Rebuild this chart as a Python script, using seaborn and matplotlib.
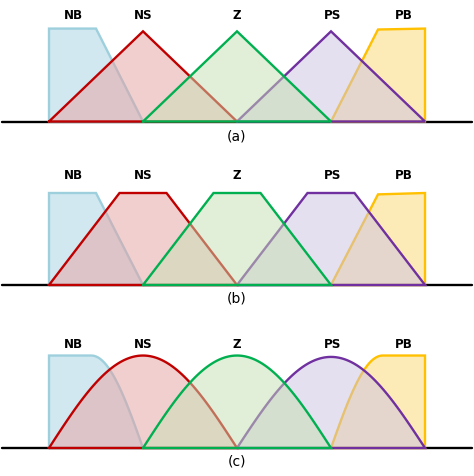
import numpy as np
import matplotlib
matplotlib.use("Agg")
import matplotlib.pyplot as plt
import seaborn as sns

sns.set_theme(style="white")
plt.rcParams['font.family'] = ['DejaVu Sans']

# ---- data -------------------------------------------------------------
labels = ["NB", "NS", "Z", "PS", "PB"]
centers = [-2.0, -1.0, 0.0, 1.0, 2.0]
label_x = [-1.745, -1.0, 0.0, 1.02, 1.77]
panel_tags = ["(a)", "(b)", "(c)"]
panel_kind = ["triangle", "trapezoid", "arch"]
# heights of NB, NS, Z, PS, PB
heights_a = [1.01, 0.98, 0.98, 0.98, 1.01]
heights_b = [1.00, 1.00, 1.00, 1.00, 1.00]
heights_c = [1.005, 1.005, 1.005, 0.99, 1.005]
pb_left_corner = [0.99, 0.985, 1.0]
shoulder_end = [0.5, 0.5, 0.45]      # end of NB/PB flat top, distance from outer edge
trap_half_top = 0.25                  # half width of flat top in (b)
half_base = 1.0                       # half width of the middle sets

edge_colors = ["#9ecfdd", "#c00000", "#00b050", "#7030a0", "#ffc000"]
fill_colors = ["#a5d3e3", "#e7a1a1", "#c5dfb3", "#cdc3e1", "#fdd971"]
draw_order = [0, 4, 1, 3, 2]

# ---- layout (pixels) ---------------------------------------------------
W, H = 474, 476
px_per_unit_x = 94.0
px_per_unit_y = 92.0
panel_top = [0, 160, 320]
panel_bot = [160, 320, 476]
panel_base = [121.5, 285.0, 448.0]
label_y = [1.111, 1.149, 1.084]
tag_y = [-0.165, -0.152, -0.147]

xhalf = (W / 2) / px_per_unit_x


def shape_points(i, kind, h, p):
    c = centers[i]
    if i == 0:  # NB shoulder
        s = -2.0 + shoulder_end[p]
        if kind == "arch":
            t = np.linspace(0, 1, 60)
            xs = np.concatenate([[-2.0, -2.0], s + t * (-1.0 - s)])
            ys = np.concatenate([[0, h], h * np.cos(np.pi / 2 * t)])
        else:
            xs = np.array([-2.0, -2.0, s, -1.0])
            ys = np.array([0, h, h, 0])
    elif i == 4:  # PB shoulder
        s = 2.0 - shoulder_end[p]
        hl = pb_left_corner[p] * h
        if kind == "arch":
            t = np.linspace(0, 1, 60)
            xs = np.concatenate([1.0 + t * (s - 1.0), [2.0, 2.0]])
            ys = np.concatenate([hl * np.sin(np.pi / 2 * t), [h, 0]])
        else:
            xs = np.array([1.0, s, 2.0, 2.0])
            ys = np.array([0, hl, h, 0])
    else:
        if kind == "triangle":
            xs = np.array([c - half_base, c, c + half_base])
            ys = np.array([0, h, 0])
        elif kind == "trapezoid":
            xs = np.array([c - half_base, c - trap_half_top, c + trap_half_top, c + half_base])
            ys = np.array([0, h, h, 0])
        else:
            t = np.linspace(0, 1, 120)
            xs = c - half_base + 2 * half_base * t
            ys = h * np.sin(np.pi * t)
    xs = np.concatenate([xs, [xs[0]]])
    ys = np.concatenate([ys, [ys[0]]])
    return xs, ys


fig = plt.figure(figsize=(W / 100, H / 100), dpi=100)
fig.patch.set_facecolor("white")
all_heights = [heights_a, heights_b, heights_c]

for p in range(3):
    top, bot, base = panel_top[p], panel_bot[p], panel_base[p]
    ax = fig.add_axes([0, 1 - bot / H, 1, (bot - top) / H])
    ax.set_xlim(-xhalf, xhalf)
    ax.set_ylim((base - bot) / px_per_unit_y, (base - top) / px_per_unit_y)
    ax.set_axis_off()

    sns.lineplot(x=[-2.5, 2.5], y=[0, 0], color="black", linewidth=1.7,
                 sort=False, estimator=None, ax=ax, zorder=1)

    for k, i in enumerate(draw_order):
        xs, ys = shape_points(i, panel_kind[p], all_heights[p][i], p)
        ax.fill(xs, ys, color=fill_colors[i], alpha=0.5, linewidth=0,
                zorder=2 + 2 * k)
        sns.lineplot(x=xs, y=ys, color=edge_colors[i], linewidth=1.7,
                     sort=False, estimator=None, ax=ax,
                     solid_joinstyle="miter", zorder=3 + 2 * k)

    for i, lab in enumerate(labels):
        ax.text(label_x[i], label_y[p], lab, ha="center", va="baseline",
                fontsize=8.6, fontweight="bold", color="black")
    ax.text(0, tag_y[p], panel_tags[p], ha="center", va="center",
            fontsize=10, color="black")

fig.savefig("out.png", dpi=100, facecolor="white")
